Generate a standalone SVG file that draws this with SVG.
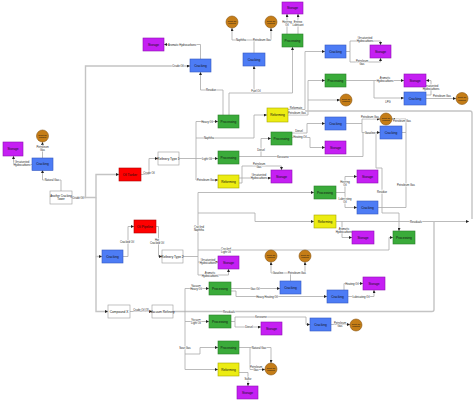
<svg xmlns="http://www.w3.org/2000/svg" width="474" height="401" viewBox="0 0 474 401">
<defs>
<marker id="ah" viewBox="0 0 6 6" refX="6" refY="3" markerWidth="3" markerHeight="3" orient="auto" markerUnits="userSpaceOnUse"><path d="M0,0L6,3L0,6z" fill="#222"/></marker>
<style>
.e{fill:none;stroke:#a9a9a9;stroke-width:0.8;marker-end:url(#ah)}
.n{fill:none;stroke:#a9a9a9;stroke-width:0.8}
.t{fill:none;stroke:#c4c4c4;stroke-width:1.4}
text{font-family:"Liberation Sans",Arial,sans-serif;text-anchor:middle;fill:#111}
.nt{font-size:3.2px}
.l{font-size:2.7px;fill:#222;stroke:#fff;stroke-width:0.8;paint-order:stroke}
.ct{font-size:2.5px}
.b rect{fill:#4d7cf5;stroke:#3458c0;stroke-width:0.6}
.g rect{fill:#3aab3a;stroke:#2a7d2a;stroke-width:0.6}
.y rect{fill:#ecec12;stroke:#a9a900;stroke-width:0.6}
.p rect{fill:#c51ff3;stroke:#8d12b3;stroke-width:0.6}
.r rect{fill:#f00;stroke:#b00000;stroke-width:0.6}
.w rect{fill:#fff;stroke:#9a9a9a;stroke-width:0.6}
.o circle{fill:#c57d17;stroke:#8a5612;stroke-width:0.6}
</style>
</defs>
<rect width="474" height="401" fill="#fff"/>
<g id="connectors">
<path class="t" d="M72,197.5H85.5V66H190" marker-end="url(#ah)"/>
<path class="t" d="M72,197.5H96V174.5H119" marker-end="url(#ah)"/>
<path class="t" d="M96,197.5V256.5H102" marker-end="url(#ah)"/>
<path class="t" d="M96,256.5V311.5H108" marker-end="url(#ah)"/>
<path class="e" d="M42.5,158V142"/>
<path class="e" d="M32,164.5H13.5V156"/>
<path class="e" d="M61,191V180H42.5V170"/>
<path class="e" d="M141,174.5H149V158.5H158"/>
<path class="e" d="M179,158.5H196V121.5H218"/>
<path class="e" d="M196,138H254V115H267"/>
<path class="e" d="M196,158.5H218"/>
<path class="e" d="M196,158.5V180H218"/>
<path class="n" d="M239,156.5H363V132.5"/>
<path class="e" d="M261,156.5V138.5H271"/>
<path class="e" d="M239,178H271"/>
<path class="e" d="M239,183H242V166H281.5V170"/>
<path class="e" d="M223,115V90H200.5V72"/>
<path class="e" d="M229,115V93H292.5V47"/>
<path class="e" d="M254,93V66"/>
<path class="e" d="M254,53V40H232V28"/>
<path class="e" d="M254,40H271V28"/>
<path class="e" d="M200.5,59V44.5H164"/>
<path class="e" d="M287,34V14"/>
<path class="e" d="M298,34V14"/>
<path class="e" d="M288,109.5H305V51.5H325"/>
<path class="e" d="M288,115H308V80.5H325"/>
<path class="e" d="M308,100H340"/>
<path class="t" d="M305,111H470Q472,111 472,113V219"/>
<path class="e" d="M346,51.5H350V41H380.5V45"/>
<path class="e" d="M350,51.5V62H380.5V58"/>
<path class="e" d="M346,80.5H404"/>
<path class="e" d="M374,80.5V98H404"/>
<path class="e" d="M426,98.5H456"/>
<path class="e" d="M426,95H431V80.5H426"/>
<path class="e" d="M292,133H307V123.5H325"/>
<path class="e" d="M292,137.5H310V147.5H325"/>
<path class="e" d="M346,123.5H362V119H380"/>
<path class="e" d="M362,123.5V132.5H380"/>
<path class="e" d="M402,132.5H406V119H392"/>
<path class="n" d="M378,207.5H406V132.5"/>
<path class="e" d="M376,132.5V168H382V213H399V231"/>
<path class="e" d="M336,192.5H345V176.5H357"/>
<path class="e" d="M345,192.5V207.5H357"/>
<path class="e" d="M336,221.5H469"/>
<path class="e" d="M342,221.5V237.5H352"/>
<path class="e" d="M183,256.5H198V192.5H314"/>
<path class="e" d="M198,213H255V221.5H314"/>
<path class="e" d="M198,250H389V237.5H393"/>
<path class="e" d="M198,262H218"/>
<path class="e" d="M198,256.5V275H228.5V269"/>
<path class="e" d="M123,256.5H128V226.5H134"/>
<path class="e" d="M156,226.5H158.5V256.5H162"/>
<path class="e" d="M130,311.5H152"/>
<path class="t" d="M173,311.5H432Q434,311.5 434,309.5V221.5"/>
<path class="e" d="M185,311.5V288.5H209"/>
<path class="e" d="M185,311.5V321.5H209"/>
<path class="e" d="M185,321.5V354H200V347.5H218"/>
<path class="e" d="M185,354V369.5H218"/>
<path class="e" d="M231,288.5H280"/>
<path class="e" d="M231,291H236V296.5H327"/>
<path class="e" d="M290.5,281V273H271V262"/>
<path class="e" d="M290.5,273H305V262"/>
<path class="e" d="M344,290V283.5H363"/>
<path class="e" d="M348,296.5H374V290"/>
<path class="e" d="M231,321.5H235V317H306V324.5H310"/>
<path class="e" d="M235,321.5V327H261"/>
<path class="e" d="M331,324.5H350"/>
<path class="e" d="M239,347.5H271V363"/>
<path class="e" d="M250,347.5V369.5H265"/>
<path class="e" d="M239,372.5H248V386"/>
</g>
<g id="edge-labels">
<text class="l" x="78" y="198.5">Crude Oil</text>
<text class="l" x="178" y="67">Crude Oil</text>
<text class="l" x="42.5" y="147.5"><tspan x="42.5">Petroleum</tspan><tspan x="42.5" dy="3">Gas</tspan></text>
<text class="l" x="22" y="163"><tspan x="22">Unsaturated</tspan><tspan x="22" dy="3">Hydrocarbons</tspan></text>
<text class="l" x="52" y="181">Natural Gas</text>
<text class="l" x="149" y="174">Crude Oil</text>
<text class="l" x="207" y="122.5">Heavy Oil</text>
<text class="l" x="209" y="139">Naphtha</text>
<text class="l" x="207" y="159.5">Light Oil</text>
<text class="l" x="206" y="181">Petroleum Gas</text>
<text class="l" x="283" y="157.5">Kerosene</text>
<text class="l" x="261" y="151">Diesel</text>
<text class="l" x="259" y="175.5"><tspan x="259">Unsaturated</tspan><tspan x="259" dy="3">Hydrocarbons</tspan></text>
<text class="l" x="259" y="164.5"><tspan x="259">Petroleum</tspan><tspan x="259" dy="3">Gas</tspan></text>
<text class="l" x="211" y="91">Residue</text>
<text class="l" x="256" y="91.5">Fuel Oil</text>
<text class="l" x="241" y="41">Naphtha</text>
<text class="l" x="262" y="41">Petroleum Gas</text>
<text class="l" x="182" y="45.5">Aromatic Hydrocarbons</text>
<text class="l" x="287" y="22.5"><tspan x="287">Heating</tspan><tspan x="287" dy="3">Oil</tspan></text>
<text class="l" x="298" y="22.5"><tspan x="298">Engine</tspan><tspan x="298" dy="3">Lubricant</tspan></text>
<text class="l" x="296" y="108.5">Reformate</text>
<text class="l" x="297" y="114">Petroleum Gas</text>
<text class="l" x="365" y="38.5"><tspan x="365">Unsaturated</tspan><tspan x="365" dy="3">Hydrocarbons</tspan></text>
<text class="l" x="362" y="61.5"><tspan x="362">Petroleum</tspan><tspan x="362" dy="3">Gas</tspan></text>
<text class="l" x="385" y="79"><tspan x="385">Aromatic</tspan><tspan x="385" dy="3">Hydrocarbons</tspan></text>
<text class="l" x="388" y="102.5">LPG</text>
<text class="l" x="442" y="97">Petroleum Gas</text>
<text class="l" x="431" y="87"><tspan x="431">Unsaturated</tspan><tspan x="431" dy="3">Hydrocarbons</tspan></text>
<text class="l" x="299" y="131.5">Diesel</text>
<text class="l" x="300" y="138">Heating Oil</text>
<text class="l" x="370" y="118">Petroleum Gas</text>
<text class="l" x="370" y="133.5">Gasoline</text>
<text class="l" x="402" y="122">Petroleum Gas</text>
<text class="l" x="406" y="186">Petroleum Gas</text>
<text class="l" x="382" y="193">Residue</text>
<text class="l" x="345" y="182.5"><tspan x="345">Heating</tspan><tspan x="345" dy="3">Oil</tspan></text>
<text class="l" x="345" y="199.5"><tspan x="345">Lubricating</tspan><tspan x="345" dy="3">Oil</tspan></text>
<text class="l" x="416" y="222.5">Residuals</text>
<text class="l" x="344" y="229.5"><tspan x="344">Aromatic</tspan><tspan x="344" dy="3">Hydrocarbons</tspan></text>
<text class="l" x="199" y="227.5"><tspan x="199">Cracked</tspan><tspan x="199" dy="3">Naphtha</tspan></text>
<text class="l" x="226" y="249.5"><tspan x="226">Cracked</tspan><tspan x="226" dy="3">Light Oil</tspan></text>
<text class="l" x="208" y="260.5"><tspan x="208">Unsaturated</tspan><tspan x="208" dy="3">Hydrocarbons</tspan></text>
<text class="l" x="210" y="273.5"><tspan x="210">Aromatic</tspan><tspan x="210" dy="3">Hydrocarbons</tspan></text>
<text class="l" x="127" y="242.5">Cracked Oil</text>
<text class="l" x="157" y="240.5"><tspan x="157">Hot</tspan><tspan x="157" dy="3">Cracked Oil</tspan></text>
<text class="l" x="141" y="310.5">Crude Oil (X)</text>
<text class="l" x="229" y="312.5">Residuals</text>
<text class="l" x="196" y="287"><tspan x="196">Vacuum</tspan><tspan x="196" dy="3">Heavy Oil</tspan></text>
<text class="l" x="196" y="320.5"><tspan x="196">Vacuum</tspan><tspan x="196" dy="3">Light Oil</tspan></text>
<text class="l" x="185" y="349">Sour Gas</text>
<text class="l" x="255" y="289.5">Gas Oil</text>
<text class="l" x="267" y="297.5">Heavy Heating Oil</text>
<text class="l" x="278" y="274">Gasoline</text>
<text class="l" x="297" y="274">Petroleum Gas</text>
<text class="l" x="352" y="284.5">Heating Oil</text>
<text class="l" x="361" y="297.5">Lubricating Oil</text>
<text class="l" x="261" y="318">Kerosene</text>
<text class="l" x="249" y="328">Diesel</text>
<text class="l" x="340" y="324"><tspan x="340">Petroleum</tspan><tspan x="340" dy="3">Gas</tspan></text>
<text class="l" x="259" y="348.5">Natural Gas</text>
<text class="l" x="256" y="367.5"><tspan x="256">Petroleum</tspan><tspan x="256" dy="3">Gas</tspan></text>
<text class="l" x="248" y="380">Sulfur</text>
</g>
<g id="n1" class="p"><rect x="143" y="38" width="21" height="13"/><text class="nt" x="153.5" y="45.6">Storage</text></g>
<g id="n2" class="p"><rect x="282" y="2" width="21" height="12"/><text class="nt" x="292.5" y="9.1">Storage</text></g>
<g id="n3" class="o"><circle cx="232" cy="22" r="6"/><text class="ct" x="232" y="21.5"><tspan x="232">Sent To</tspan><tspan x="232" dy="2.8">Market</tspan></text></g>
<g id="n4" class="o"><circle cx="271" cy="22" r="6"/><text class="ct" x="271" y="21.5"><tspan x="271">Sent To</tspan><tspan x="271" dy="2.8">Market</tspan></text></g>
<g id="n5" class="g"><rect x="282" y="34" width="21" height="13"/><text class="nt" x="292.5" y="41.6">Processing</text></g>
<g id="n6" class="b"><rect x="243" y="53" width="22" height="13"/><text class="nt" x="254" y="60.6">Cracking</text></g>
<g id="n7" class="b"><rect x="190" y="59" width="21" height="13"/><text class="nt" x="200.5" y="66.6">Cracking</text></g>
<g id="n8" class="g"><rect x="218" y="115" width="21" height="13"/><text class="nt" x="228.5" y="122.6">Processing</text></g>
<g id="n9" class="y"><rect x="267" y="108" width="21" height="14"/><text class="nt" x="277.5" y="116.1">Reforming</text></g>
<g id="n10" class="g"><rect x="271" y="132" width="21" height="13"/><text class="nt" x="281.5" y="139.6">Processing</text></g>
<g id="n11" class="b"><rect x="325" y="45" width="21" height="13"/><text class="nt" x="335.5" y="52.6">Cracking</text></g>
<g id="n12" class="p"><rect x="370" y="45" width="21" height="13"/><text class="nt" x="380.5" y="52.6">Storage</text></g>
<g id="n13" class="g"><rect x="325" y="74" width="21" height="13"/><text class="nt" x="335.5" y="81.6">Processing</text></g>
<g id="n14" class="p"><rect x="404" y="74" width="22" height="13"/><text class="nt" x="415" y="81.6">Storage</text></g>
<g id="n15" class="b"><rect x="404" y="92" width="22" height="13"/><text class="nt" x="415" y="99.6">Cracking</text></g>
<g id="n16" class="o"><circle cx="346" cy="100" r="6"/><text class="ct" x="346" y="99.5"><tspan x="346">Sent To</tspan><tspan x="346" dy="2.8">Market</tspan></text></g>
<g id="n17" class="o"><circle cx="462" cy="98.5" r="6"/><text class="ct" x="462" y="98"><tspan x="462">Sent To</tspan><tspan x="462" dy="2.8">Market</tspan></text></g>
<g id="n18" class="b"><rect x="325" y="117" width="21" height="13"/><text class="nt" x="335.5" y="124.6">Cracking</text></g>
<g id="n19" class="o"><circle cx="386" cy="119" r="6"/><text class="ct" x="386" y="118.5"><tspan x="386">Sent To</tspan><tspan x="386" dy="2.8">Market</tspan></text></g>
<g id="n20" class="b"><rect x="380" y="126" width="22" height="13"/><text class="nt" x="391" y="133.6">Cracking</text></g>
<g id="n21" class="p"><rect x="325" y="141" width="21" height="13"/><text class="nt" x="335.5" y="148.6">Storage</text></g>
<g id="n22" class="p"><rect x="3" y="142" width="20" height="14"/><text class="nt" x="13" y="150.1">Storage</text></g>
<g id="n23" class="o"><circle cx="42.5" cy="136" r="6"/><text class="ct" x="42.5" y="135.5"><tspan x="42.5">Sent To</tspan><tspan x="42.5" dy="2.8">Market</tspan></text></g>
<g id="n24" class="b"><rect x="32" y="158" width="21" height="12.5"/><text class="nt" x="42.5" y="165.4">Cracking</text></g>
<g id="n25" class="w"><rect x="50" y="191" width="22" height="13"/><text class="nt" x="61" y="197"><tspan x="61" style="font-size:2.8px">Another Cracking</tspan><tspan x="61" dy="3" style="font-size:2.8px">Tower</tspan></text></g>
<g id="n26" class="r"><rect x="119" y="168" width="22" height="13"/><text class="nt" x="130" y="175.6">Oil Tanker</text></g>
<g id="n27" class="w"><rect x="158" y="152" width="21" height="13"/><text class="nt" x="168.5" y="159.6">Refinery Type 1</text></g>
<g id="n28" class="g"><rect x="218" y="151" width="21" height="13"/><text class="nt" x="228.5" y="158.6">Processing</text></g>
<g id="n29" class="y"><rect x="218" y="175" width="21" height="13"/><text class="nt" x="228.5" y="182.6">Reforming</text></g>
<g id="n30" class="p"><rect x="271" y="170" width="21" height="13"/><text class="nt" x="281.5" y="177.6">Storage</text></g>
<g id="n31" class="p"><rect x="357" y="170" width="21" height="13"/><text class="nt" x="367.5" y="177.6">Storage</text></g>
<g id="n32" class="g"><rect x="314" y="186" width="22" height="13"/><text class="nt" x="325" y="193.6">Processing</text></g>
<g id="n33" class="b"><rect x="357" y="201" width="21" height="13"/><text class="nt" x="367.5" y="208.6">Cracking</text></g>
<g id="n34" class="y"><rect x="314" y="215" width="22" height="13"/><text class="nt" x="325" y="222.6">Reforming</text></g>
<g id="n35" class="p"><rect x="352" y="231" width="22" height="13"/><text class="nt" x="363" y="238.6">Storage</text></g>
<g id="n36" class="g"><rect x="393" y="231" width="22" height="13"/><text class="nt" x="404" y="238.6">Processing</text></g>
<g id="n37" class="b"><rect x="102" y="250" width="21" height="13"/><text class="nt" x="112.5" y="257.6">Cracking</text></g>
<g id="n38" class="r"><rect x="134" y="220" width="22" height="13"/><text class="nt" x="145" y="227.6">Oil Pipeline</text></g>
<g id="n39" class="w"><rect x="162" y="250" width="21" height="13"/><text class="nt" x="172.5" y="257.6">Refinery Type 2</text></g>
<g id="n40" class="w"><rect x="108" y="305" width="22" height="13"/><text class="nt" x="119" y="312.6">Compound X</text></g>
<g id="n41" class="w"><rect x="152" y="305" width="21" height="13"/><text class="nt" x="162.5" y="312.6">Vacuum Refinery</text></g>
<g id="n42" class="p"><rect x="218" y="256" width="21" height="13"/><text class="nt" x="228.5" y="263.6">Storage</text></g>
<g id="n43" class="b"><rect x="280" y="281" width="21" height="13"/><text class="nt" x="290.5" y="288.6">Cracking</text></g>
<g id="n44" class="g"><rect x="209" y="282" width="22" height="13"/><text class="nt" x="220" y="289.6">Processing</text></g>
<g id="n45" class="g"><rect x="209" y="315" width="22" height="13"/><text class="nt" x="220" y="322.6">Processing</text></g>
<g id="n46" class="p"><rect x="261" y="322" width="21" height="13"/><text class="nt" x="271.5" y="329.6">Storage</text></g>
<g id="n47" class="g"><rect x="218" y="341" width="21" height="13"/><text class="nt" x="228.5" y="348.6">Processing</text></g>
<g id="n48" class="y"><rect x="218" y="363" width="21" height="13"/><text class="nt" x="228.5" y="370.6">Reforming</text></g>
<g id="n49" class="o"><circle cx="271" cy="369" r="6"/><text class="ct" x="271" y="368.5"><tspan x="271">Sent To</tspan><tspan x="271" dy="2.8">Market</tspan></text></g>
<g id="n50" class="p"><rect x="237" y="386" width="21" height="13"/><text class="nt" x="247.5" y="393.6">Storage</text></g>
<g id="n51" class="b"><rect x="310" y="318" width="21" height="13"/><text class="nt" x="320.5" y="325.6">Cracking</text></g>
<g id="n52" class="o"><circle cx="356" cy="325" r="6"/><text class="ct" x="356" y="324.5"><tspan x="356">Sent To</tspan><tspan x="356" dy="2.8">Market</tspan></text></g>
<g id="n53" class="b"><rect x="327" y="290" width="21" height="13"/><text class="nt" x="337.5" y="297.6">Cracking</text></g>
<g id="n54" class="p"><rect x="363" y="277" width="22" height="13"/><text class="nt" x="374" y="284.6">Storage</text></g>
<g id="n55" class="o"><circle cx="271" cy="256" r="6"/><text class="ct" x="271" y="255.5"><tspan x="271">Sent To</tspan><tspan x="271" dy="2.8">Market</tspan></text></g>
<g id="n56" class="o"><circle cx="305" cy="256" r="6"/><text class="ct" x="305" y="255.5"><tspan x="305">Sent To</tspan><tspan x="305" dy="2.8">Market</tspan></text></g>
</svg>
